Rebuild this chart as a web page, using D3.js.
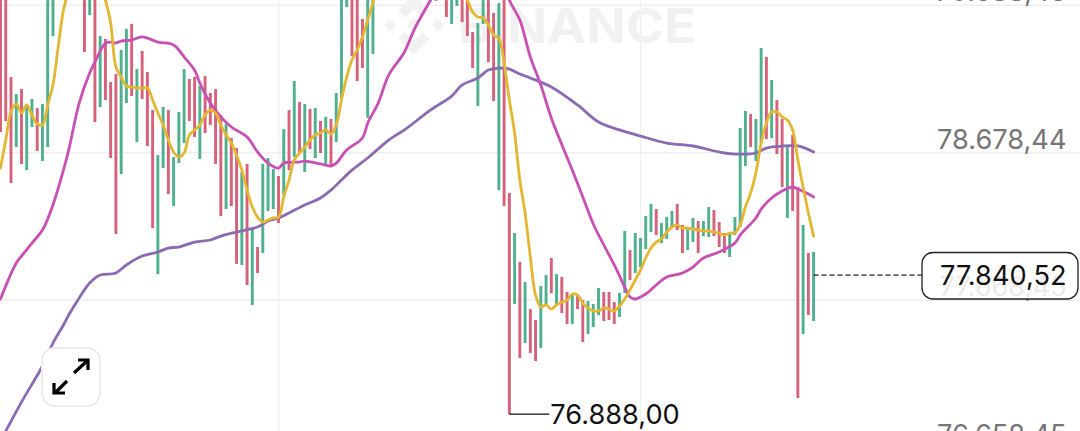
<!DOCTYPE html>
<html><head><meta charset="utf-8">
<script src="https://cdn.jsdelivr.net/npm/d3@7/dist/d3.min.js"></script>
<style>html,body{margin:0;padding:0;background:#fff;overflow:hidden}svg{display:block}</style>
</head><body><div id="c"></div>
<script>
const priceTicks=[79688.43,78678.44,77668.45,76658.45];
const priceTickLabels=["79.688,43","78.678,44","77.668,45","76.658,45"];
const timeGridBars=[53,122];
const lastPrice=77840.52, lastPriceLabel="77.840,52";
const lowPrice=76888, lowPriceLabel="76.888,00", lowBar=97;
const barOpen=[79930,79930,79198,78718,79115,78560,78855,78985,78622,78718,79478,79900,79950,79900,79950,79900,79930,79622,79930,78992,79458,79163,79218,78533,79019,79561,78752,79376,79232,78971,77848,78574,78971,78314,78608,78745,79184,79198,78636,79204,79088,79115,78937,78293,78780,78711,77910,78602,77636,78033,77992,78280,78293,78519,78389,78971,78650,79026,78547,78978,78643,78896,78602,78910,78752,79054,79677,79930,79930,79595,78917,79355,79900,79950,79900,79950,79900,79950,79900,79950,79900,79950,79900,79950,79900,79930,79561,79684,79930,79930,79506,78999,79561,79930,79636,78423,79930,78403,77643,77930,77375,77608,77533,77341,77643,77958,77636,77828,77725,77506,77711,77670,77437,77485,77567,77725,77725,77656,77554,77718,78012,77855,77896,78019,78136,78293,78060,78088,78170,78328,78184,78012,78067,78211,78108,78102,78286,78204,78129,77965,78115,78170,78588,78944,78622,78745,79335,78780,79040,78910,78232,78800,78444,77437,77992,77526];
const barClose=[78821,78896,78471,79081,78602,79006,79047,78691,79013,79930,79930,80150,79780,80150,79780,80150,79369,79930,78889,79478,79040,78643,78122,79383,79526,79067,79252,79047,78725,78163,78663,78992,78396,78650,78958,79252,78896,78787,79136,78814,78869,78602,78245,78876,78314,77917,78547,77773,78163,77855,78602,78643,78567,78197,78841,78560,79170,78684,79013,78704,78985,78677,78924,78595,79088,79930,79930,79341,79170,79259,79800,79930,80150,79780,80150,79780,80150,79780,80150,79780,80150,79780,80150,79720,80150,79609,79930,79930,79574,79478,79259,79567,79930,79300,79033,79704,78314,76888,78129,77273,77793,77307,77252,77766,77841,77718,77848,77581,77506,77711,77608,77382,77663,77643,77752,77526,77533,77506,77718,78143,77807,78129,78095,78245,78328,78115,78197,78239,78280,78149,77992,78170,78232,77992,78211,78307,78108,78033,77992,78136,78239,78848,78965,78718,78910,79396,78773,79177,78670,78444,78718,78280,76999,78184,77567,77999];

const ma7Bars=[0,1,2,3,4,5,6,7,8,9,10,11,12,13,14,15,16,17,18,19,20,21,22,23,24,25,26,27,28,29,30,31,32,33,34,35,36,37,38,39,40,41,42,43,44,45,46,47,48,49,50,51,52,53,54,55,56,57,58,59,60,61,62,63,64,65,66,67,68,69,70,71,72,74,76,78,80,82,84,86,88,89,90,91,92,93,94,95,96,97,98,99,100,101,102,103,104,105,106,107,108,109,110,111,112,113,114,115,116,117,118,119,120,121,122,123,124,125,126,127,128,129,130,131,132,133,134,135,136,137,138,139,140,141,142,143,144,145,146,147,148,149,150,151,152,153,154,155];
const ma7Vals=[78574,78766,78958,79013,78951,79006,78937,78876,78869,79006,79143,79403,79656,79794,79950,80000,80020,80000,79950,79850,79725,79567,79266,79198,79136,79129,79122,79122,79122,79040,78951,78869,78766,78684,78650,78677,78800,78835,78869,78937,78971,78951,78869,78800,78745,78663,78560,78424,78307,78238,78204,78218,78232,78238,78376,78492,78629,78677,78718,78766,78800,78814,78835,78807,78869,79040,79198,79314,79383,79471,79588,79704,79830,79980,80080,80150,80180,80150,80050,79920,79790,79725,79643,79609,79602,79554,79485,79465,79293,79040,78814,78492,78266,77965,77704,77622,77636,77608,77636,77656,77670,77711,77704,77649,77615,77595,77595,77615,77608,77595,77629,77677,77739,77807,77875,77958,78026,78067,78088,78136,78170,78184,78163,78163,78156,78150,78143,78143,78136,78129,78115,78129,78129,78184,78307,78403,78540,78745,78883,78958,78958,78924,78903,78835,78629,78444,78266,78108];

const ma25Bars=[0,1,3,4,6,8,10,12,13,15,17,18,20,21,22,23,25,27,30,33,35,37,38,40,42,44,47,49,51,53,54,57,58,61,63,64,66,69,70,72,74,77,79,82,84,86,88,90,92,94,96,97,99,101,103,105,109,111,113,115,117,119,120,121,123,125,127,130,132,134,137,140,141,144,145,147,149,151,152,154,155];
const ma25Vals=[77677,77766,77923,77971,78060,78149,78321,78560,78697,79019,79225,79300,79430,79437,79430,79444,79451,79472,79437,79417,79335,79245,79156,79019,78924,78855,78787,78684,78608,78574,78608,78615,78622,78602,78588,78608,78697,78780,78882,79019,79211,79369,79533,79725,79850,79960,80050,80100,80090,80000,79860,79725,79588,79335,79143,78917,78560,78376,78191,78047,77910,77759,77691,77677,77711,77773,77828,77855,77896,77958,77999,78060,78115,78232,78293,78369,78417,78444,78430,78396,78376];

const ma99Bars=[0,1,4,8,10,12,13,15,17,19,22,24,27,30,32,34,37,40,42,45,49,51,53,55,58,61,63,65,67,70,74,77,82,86,88,91,93,95,97,99,101,105,110,114,118,122,127,132,137,140,144,146,149,152,155];
const ma99Vals=[76711,76773,76971,77218,77375,77499,77567,77684,77786,77841,77855,77910,77971,77999,78026,78033,78067,78081,78108,78136,78170,78211,78232,78266,78321,78369,78423,78492,78560,78643,78766,78835,78972,79067,79143,79191,79245,79259,79252,79218,79191,79129,79006,78889,78835,78793,78745,78725,78684,78670,78677,78711,78725,78725,78684];

const W=1080,H=431;
const UP="#4fb08f",DOWN="#d5627a",MA7="#e3b731",MA25="#c850b4",MA99="#8a6bb2",GRID="#efefef",FONT="Inter, Roboto, sans-serif";
const x=d3.scaleLinear().domain([0,155]).range([0.5,813.6]);
const y=d3.scaleLinear().domain([79688.43,76658.45]).range([5.34,447.7]);
const svg=d3.select("#c").append("svg").attr("width",W).attr("height",H);

// grid
const gridG=svg.append("g");
gridG.selectAll("line.h").data(priceTicks).join("line").attr("class","h")
 .attr("x1",0).attr("x2",W).attr("y1",d=>y(d)).attr("y2",d=>y(d)).attr("stroke",GRID).attr("stroke-width",1.5);
gridG.selectAll("line.v").data(timeGridBars).join("line").attr("class","v")
 .attr("x1",d=>x(d)).attr("x2",d=>x(d)).attr("y1",0).attr("y2",H).attr("stroke",GRID).attr("stroke-width",1.2);

// watermark
const wm=svg.append("g").attr("fill","#f1f1f1");
const cx=414,cy=25,s=30;
const poly=(pts)=>wm.append("path").attr("d",d3.line()(pts.map(p=>[cx+p[0]*s,cy+p[1]*s]))+"Z");
const diamond=(dx,dy,r)=>poly([[dx,dy-r],[dx+r,dy],[dx,dy+r],[dx-r,dy]]);
diamond(-0.8,0,0.2);diamond(0.8,0,0.2);diamond(0,0,0.24);
poly([[0,-1],[0.53,-0.47],[0.3,-0.24],[0,-0.52],[-0.3,-0.24],[-0.53,-0.47]]);
poly([[0,1],[0.53,0.47],[0.3,0.24],[0,0.52],[-0.3,0.24],[-0.53,0.47]]);
wm.append("text").attr("x",458).attr("y",43).attr("font-family",FONT).attr("font-weight",700).attr("font-size",48)
 .attr("textLength",238).attr("lengthAdjust","spacingAndGlyphs").text("BINANCE");

// bars
svg.append("g").selectAll("rect").data(barOpen.map((o,i)=>({i,o,c:barClose[i]}))).join("rect")
 .attr("x",d=>x(d.i)-1.45).attr("width",2.9)
 .attr("y",d=>y(Math.max(d.o,d.c))).attr("height",d=>Math.abs(y(d.o)-y(d.c)))
 .attr("fill",d=>d.c>=d.o?UP:DOWN);

// moving averages
const line=d3.line().x(d=>x(d[0])).y(d=>y(d[1])).curve(d3.curveCatmullRom.alpha(0.5));
[[ma99Bars,ma99Vals,MA99],[ma25Bars,ma25Vals,MA25],[ma7Bars,ma7Vals,MA7]].forEach(([b,v,col])=>{
 svg.append("path").attr("d",line(b.map((k,i)=>[k,v[i]]))).attr("fill","none").attr("stroke",col)
  .attr("stroke-width",2.8).attr("stroke-linejoin","round").attr("stroke-linecap","round");
});

// price axis labels
svg.append("g").selectAll("text").data(priceTicks).join("text")
 .attr("x",1066.5).attr("y",d=>y(d)-4).attr("text-anchor","end").attr("font-family",FONT).attr("font-size",27.2).attr("fill","#757575")
 .text((d,i)=>priceTickLabels[i]);

// low marker
svg.append("line").attr("x1",x(lowBar)).attr("x2",x(lowBar)+40).attr("y1",y(lowPrice)).attr("y2",y(lowPrice)).attr("stroke","#111").attr("stroke-width",1.2);
svg.append("text").attr("x",x(lowBar)+41).attr("y",y(lowPrice)+10).attr("font-family",FONT).attr("font-size",27.2).attr("fill","#111").text(lowPriceLabel);

// last price
svg.append("line").attr("x1",x(155)).attr("x2",922).attr("y1",y(lastPrice)).attr("y2",y(lastPrice)).attr("stroke","#222").attr("stroke-width",1.1).attr("stroke-dasharray","5 3");
svg.append("rect").attr("x",922).attr("y",252.5).attr("width",156).attr("height",46.5).attr("rx",11).attr("fill","#fff").attr("fill-opacity",0.85).attr("stroke","#222").attr("stroke-width",1.3);
svg.append("text").attr("x",1066.5).attr("y",y(lastPrice)+10).attr("text-anchor","end").attr("font-family",FONT).attr("font-size",27.2).attr("fill","#111").text(lastPriceLabel);

// expand button
const btn=svg.append("g");
btn.append("rect").attr("x",42).attr("y",348).attr("width",58).attr("height",58).attr("rx",13).attr("fill","#fff").attr("stroke","#ececef").attr("stroke-width",2);
btn.append("path").attr("fill","none").attr("stroke","#000").attr("stroke-width",3.2)
 .attr("d","M74 373L87 361M78 360H88V370M67 381L55 393M54 383V393H65");
</script></body></html>
